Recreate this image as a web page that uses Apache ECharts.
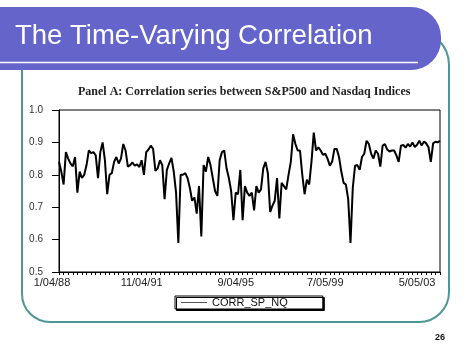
<!DOCTYPE html>
<html><head><meta charset="utf-8">
<script src="https://cdn.jsdelivr.net/npm/echarts@6.0.0/dist/echarts.min.js"></script>
<style>html,body{margin:0;padding:0;background:#fff;}#c{width:474px;height:355px;}</style>
</head><body><div id="c"></div>
<script>
const slideTitle = 'The Time-Varying Correlation';
const panelTitle = 'Panel A: Correlation series between S&P500 and Nasdaq Indices';
const seriesName = 'CORR_SP_NQ';
const pageNumber = '26';
const tickLabels = ['1/04/88', '11/04/91', '9/04/95', '7/05/99', '5/05/03'];
const tickObs = [0, 36, 77, 116, 156];
const yMin = 0.5, yMax = 1.0, yStep = 0.1;
const corr = [
  0.84, 0.81, 0.77, 0.87, 0.85, 0.835, 0.826, 0.855, 0.745, 0.81,
  0.79, 0.80, 0.83, 0.875, 0.867, 0.87, 0.86, 0.79, 0.87, 0.90,
  0.845, 0.74, 0.80, 0.805, 0.84, 0.855, 0.835, 0.85, 0.895, 0.875,
  0.825, 0.83, 0.838, 0.828, 0.832, 0.824, 0.845, 0.80, 0.87, 0.878,
  0.89, 0.88, 0.812, 0.82, 0.845, 0.83, 0.725, 0.815, 0.835, 0.852,
  0.81, 0.745, 0.59, 0.80, 0.80, 0.805, 0.79, 0.76, 0.72, 0.73,
  0.68, 0.765, 0.61, 0.83, 0.81, 0.855, 0.83, 0.79, 0.75, 0.735,
  0.845, 0.87, 0.875, 0.82, 0.79, 0.75, 0.66, 0.745, 0.74, 0.815,
  0.66, 0.765, 0.745, 0.735, 0.745, 0.69, 0.765, 0.745, 0.755, 0.82,
  0.84, 0.805, 0.685, 0.705, 0.72, 0.79, 0.665, 0.775, 0.765, 0.755,
  0.80, 0.84, 0.925, 0.895, 0.875, 0.875, 0.80, 0.74, 0.785, 0.77,
  0.84, 0.93, 0.875, 0.885, 0.875, 0.862, 0.865, 0.85, 0.828, 0.84,
  0.88, 0.88, 0.855, 0.81, 0.775, 0.77, 0.725, 0.59, 0.76, 0.828,
  0.83, 0.815, 0.855, 0.865, 0.905, 0.895, 0.865, 0.85, 0.875, 0.865,
  0.825, 0.89, 0.895, 0.878, 0.872, 0.875, 0.875, 0.86, 0.84, 0.89,
  0.892, 0.884, 0.895, 0.887, 0.90, 0.886, 0.893, 0.905, 0.89, 0.903,
  0.897, 0.885, 0.84, 0.897, 0.902, 0.90, 0.905
];
const categories = corr.map((_, i) => 'obs' + i);

const SANS = '"Liberation Sans", Arial, sans-serif';
const SERIF = '"Liberation Serif", "Times New Roman", serif';

const chart = echarts.init(document.getElementById('c'), null, {renderer: 'canvas'});
chart.setOption({
  animation: false,
  backgroundColor: '#fff',
  title: {
    text: panelTitle,
    left: 73, top: 81,
    textStyle: {fontFamily: SERIF, fontSize: 12, fontWeight: 'bold', color: '#222'}
  },
  legend: {
    data: [seriesName],
    left: 175, top: 296,
    icon: 'rect', itemWidth: 26, itemHeight: 1, itemGap: 6,
    padding: [1, 35, 1, 6],
    borderColor: '#000', borderWidth: 1,
    shadowColor: '#000', shadowOffsetX: 1.5, shadowOffsetY: 1.5, shadowBlur: 0,
    backgroundColor: '#fff',
    itemStyle: {color: '#555'},
    textStyle: {fontFamily: SANS, fontSize: 11, color: '#111', lineHeight: 11, padding: [0, 0, 0, 0]}
  },
  grid: {left: 59, right: 34, top: 110, bottom: 83, show: true, borderColor: '#000', borderWidth: 1, backgroundColor: 'transparent'},
  xAxis: {
    type: 'category', data: categories, boundaryGap: false,
    axisLine: {lineStyle: {color: '#000', width: 1}},
    axisTick: {show: true, interval: 1, length: 3, lineStyle: {color: '#000'}},
    axisLabel: {
      interval: (i) => tickObs.indexOf(i) >= 0,
      formatter: (v, i) => {
        const k = tickObs.indexOf(i);
        if (k < 0) return '';
        return k === 0 ? '{s|' + tickLabels[k] + '}' : tickLabels[k];
      },
      rich: {s: {fontFamily: SANS, fontSize: 11, color: '#222', padding: [0, 14, 0, 0]}},
      margin: 5, fontFamily: SANS, fontSize: 11, color: '#222'
    },
    splitLine: {show: false}
  },
  yAxis: {
    type: 'value', min: yMin, max: yMax, interval: yStep,
    axisLine: {show: true, lineStyle: {color: '#000', width: 1}},
    axisTick: {show: true, length: 7, lineStyle: {color: '#000'}},
    axisLabel: {formatter: (v) => v.toFixed(1), margin: 16, fontFamily: SANS, fontSize: 10, color: '#333'},
    splitLine: {show: false}
  },
  series: [{
    name: seriesName, type: 'line', data: corr,
    symbol: 'none', lineStyle: {color: '#000', width: 2}, itemStyle: {color: '#000'}
  }],
  graphic: [
    {type: 'rect', z: 1, shape: {x: 22, y: 30, width: 427, height: 292, r: [0, 35, 30, 28]},
      style: {fill: 'none', stroke: '#4F9696', lineWidth: 2}},
    {type: 'rect', z: 2, shape: {x: 0, y: 7, width: 441, height: 63, r: [0, 30, 30, 0]},
      style: {fill: '#6464CB'}},
    {type: 'line', z: 3, shape: {x1: 0, y1: 62.5, x2: 418, y2: 62.5},
      style: {stroke: '#fff', lineWidth: 1.5}},
    {type: 'text', z: 4, x: 15, y: 36,
      style: {text: slideTitle, fill: '#fff', fontFamily: SANS, fontSize: 27.5, verticalAlign: 'middle', align: 'left'}},
    {type: 'text', z: 4, x: 440, y: 338,
      style: {text: pageNumber, fill: '#111', fontFamily: SANS, fontSize: 9, fontWeight: 'bold', verticalAlign: 'middle', align: 'center'}}
  ]
});
</script>
</body></html>
